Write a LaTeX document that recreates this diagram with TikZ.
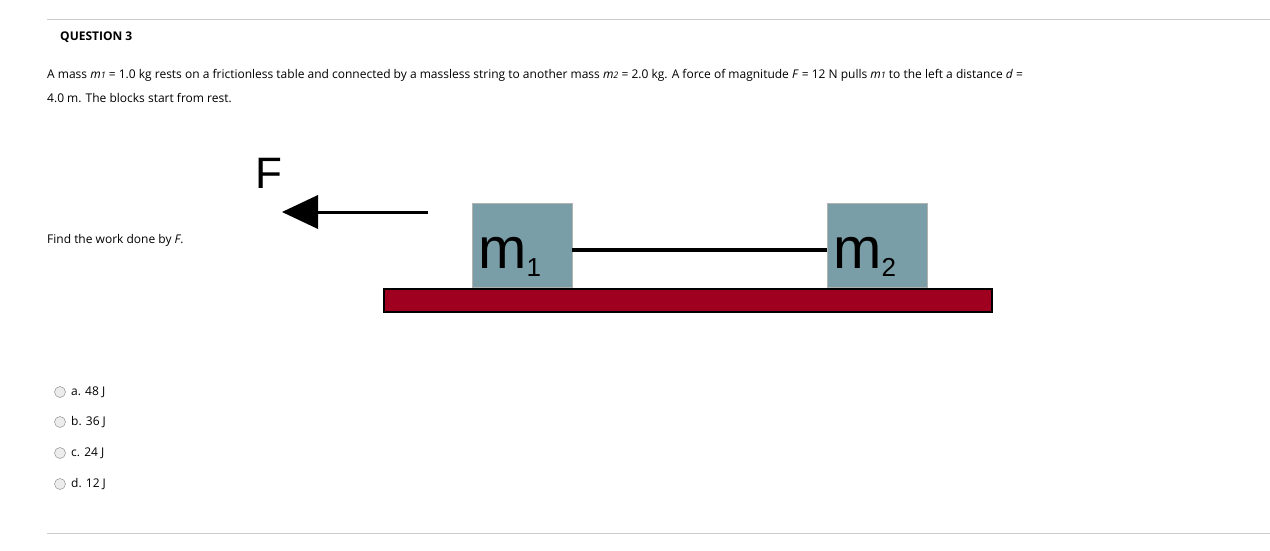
\documentclass[tikz,border=0pt]{standalone}
\usepackage{fontspec}
\setmainfont{Open Sans}
\newfontfamily\figfont{Liberation Sans}
\begin{document}
\begin{tikzpicture}[x=1pt,y=-1pt,
  txt/.style={anchor=base west,inner sep=0,font=\fontsize{12}{14}\selectfont},
  blk/.style={draw=gray!60,fill={rgb,255:red,122;green,158;blue,168},minimum width=100pt,minimum height=84pt,anchor=north west,inner sep=0},
  opt/.style={circle,draw=gray,fill=gray!15,minimum size=11pt,inner sep=0}]
\useasboundingbox (0,0) rectangle (1270,550);
\draw[gray!40] (47,19) -- (1270,19);
\draw[gray!40] (47,533) -- (1270,533);
\node[txt,font=\fontsize{12}{14}\selectfont\bfseries] (q) at (60,40) {QUESTION 3};
\node[txt] (l1) at (47,78) {A mass \textit{\large m}{\small\textit{1}} = 1.0 kg rests on a frictionless table and connected by a massless string to another mass \textit{\large m}{\small\textit{2}} = 2.0 kg. A force of magnitude \textit{\large F} = 12 N pulls \textit{\large m}{\small\textit{1}} to the left a distance \textit{\large d} =};
\node[txt] (l2) at (47,102) {4.0 m. The blocks start from rest.};
\node[txt] (find) at (47,243) {Find the work done by \textit{F}.};
\foreach \y/\t [count=\i] in {392/a. 48 J,422/b. 36 J,453/c. 24 J,484/d. 12 J}{
  \node[opt] (o\i) at (60,\y) {};
  \node[txt,anchor=west] (t\i) at (71,\y) {\t};
}
% figure
\node[draw=black,line width=1.5pt,fill={rgb,255:red,160;green,0;blue,32},minimum width=608pt,minimum height=23pt,anchor=north west,inner sep=0] (table) at (383,288) {};
\node[blk] (m1) at (472,203) {};
\node[blk] (m2) at (827,203) {};
\node[inner sep=0,anchor=base west,font=\figfont\fontsize{58}{58}\selectfont] (m1t) at (478,268) {m\raisebox{-8pt}{\fontsize{26}{26}\selectfont 1}};
\node[inner sep=0,anchor=base west,font=\figfont\fontsize{58}{58}\selectfont] (m2t) at (833,268) {m\raisebox{-8pt}{\fontsize{26}{26}\selectfont 2}};
\draw[line width=3.5pt] (m1.east |- 0,250) -- (m2.west |- 0,250);
\node[inner sep=0,font=\figfont\fontsize{44}{44}\selectfont] (F) at (269,173) {F};
\coordinate (a0) at (428,212);
\coordinate (a1) at (282,212);
\draw[line width=3pt] (a0) -- (310,212);
\fill (a1) -- (318,195) -- (318,229) -- cycle;
\end{tikzpicture}
\end{document}
